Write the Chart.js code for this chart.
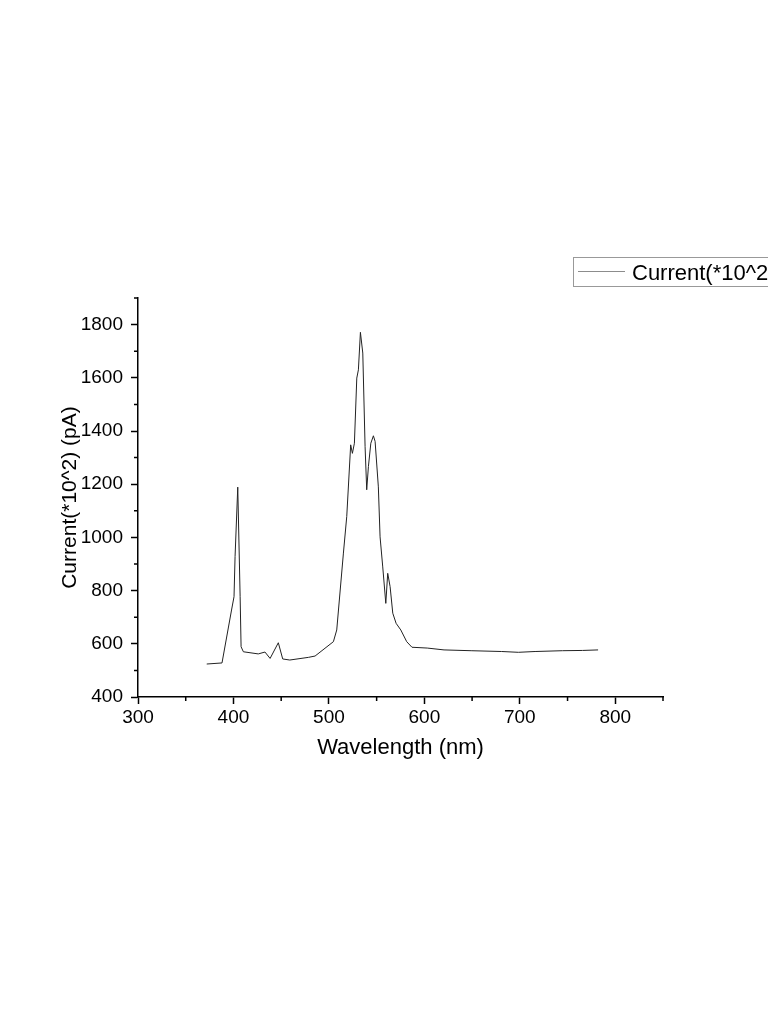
<!DOCTYPE html>
<html lang="en">
<head>
    <meta charset="UTF-8">
    <meta name="viewport" content="width=device-width, initial-scale=1.0">
    <script src="https://cdn.jsdelivr.net/npm/chart.js"></script>
    <title>Current vs Wavelength</title>
    <style>
        html, body { margin: 0; padding: 0; background: #fff; overflow: hidden; }
        #wrap { width: 768px; height: 1024px; position: relative; }
    </style>
</head>
<body>
    <div id="wrap">
        <canvas id="myChart"></canvas>
    </div>
    <script>
        // wavelength (nm) and current (*10^2 pA)
        const wavelength = [372, 388, 398, 400.6, 401.7, 404.5, 407, 408, 410.4, 426, 433, 438.4, 447, 451.6, 459, 478.5,
            485.5, 504.7, 508.2, 515.2, 518.7, 522.8, 524.6, 526.7, 529.2, 530.9, 533, 535.5, 537.9, 539.6, 541.4, 543.9,
            546.6, 548.4, 551.8, 553.6, 556.4, 559.6, 561.6, 564.1, 566.9, 570.4, 575.3, 581.5, 587, 603, 620.6, 649,
            681, 698.5, 716, 744.6, 765.7, 782];
        const current = [524, 528, 727, 777, 928, 1189, 777, 589, 570, 562, 569, 545, 604, 543, 539, 549,
            554, 608, 652, 941, 1079, 1348, 1316, 1354, 1599, 1630, 1771, 1693, 1341, 1179, 1267, 1354,
            1382, 1361, 1190, 1002, 889, 752, 865, 815, 715, 677, 652, 608, 587, 584, 577, 574,
            571, 568, 571, 574, 575, 577];
        const seriesName = 'Current(*10^2) (pA)';
        const xTitle = 'Wavelength (nm)';
        const yTitle = 'Current(*10^2) (pA)';
        const xMinorTicks = [350, 450, 550, 650, 750, 850];
        const yMinorTicks = [500, 700, 900, 1100, 1300, 1500, 1700, 1900];

        const FONT = '"Liberation Sans", Arial, sans-serif';

        // short minor ticks like the original plot
        const minorTicks = {
            id: 'minorTicks',
            afterDraw(chart) {
                const c = chart.ctx;
                const xs = chart.scales.x, ys = chart.scales.y;
                c.save();
                c.strokeStyle = '#000';
                c.lineWidth = 1.5;
                c.beginPath();
                xMinorTicks.forEach(v => {
                    const px = xs.getPixelForValue(v);
                    c.moveTo(px, ys.bottom);
                    c.lineTo(px, ys.bottom + 4);
                });
                yMinorTicks.forEach(v => {
                    const py = ys.getPixelForValue(v);
                    c.moveTo(xs.left, py);
                    c.lineTo(xs.left - 4, py);
                });
                c.stroke();
                c.restore();
            }
        };

        // boxed legend top right, runs off the page edge
        const boxLegend = {
            id: 'boxLegend',
            afterDraw(chart) {
                const c = chart.ctx;
                c.save();
                c.strokeStyle = '#999';
                c.lineWidth = 1;
                c.strokeRect(573.5, 257.5, 240, 29);
                c.strokeStyle = '#8c8c8c';
                c.beginPath();
                c.moveTo(578, 271.5);
                c.lineTo(625, 271.5);
                c.stroke();
                c.fillStyle = '#000';
                c.font = '22px ' + FONT;
                c.textBaseline = 'alphabetic';
                c.fillText(seriesName, 632, 280);
                c.restore();
            }
        };

        const plain = v => String(v);

        const ctx = document.getElementById('myChart');
        const chart = new Chart(ctx, {
            type: 'line',
            data: {
                datasets: [{
                    label: seriesName,
                    data: wavelength.map((w, i) => ({ x: w, y: current[i] })),
                    borderColor: '#222',
                    borderWidth: 1,
                    pointRadius: 0,
                    tension: 0,
                    fill: false
                }]
            },
            options: {
                responsive: true,
                maintainAspectRatio: false,
                animation: false,
                layout: {
                    padding: { top: 298, right: 105, left: 54, bottom: 259 }
                },
                plugins: {
                    legend: { display: false },
                    tooltip: { enabled: false }
                },
                scales: {
                    x: {
                        type: 'linear',
                        min: 300,
                        max: 850,
                        afterFit(scale) { scale.height = 68; },
                        border: { display: true, color: '#000', width: 1.5 },
                        grid: { drawOnChartArea: false, drawTicks: true, tickLength: 7, color: '#000', tickWidth: 1.5 },
                        ticks: {
                            stepSize: 100,
                            includeBounds: false,
                            color: '#000',
                            padding: 2,
                            maxRotation: 0,
                            callback: plain,
                            font: { family: FONT, size: 19 }
                        },
                        title: {
                            display: true,
                            text: xTitle,
                            color: '#000',
                            font: { family: FONT, size: 22 }
                        }
                    },
                    y: {
                        min: 400,
                        max: 1900,
                        afterFit(scale) { scale.width = 84; },
                        border: { display: true, color: '#000', width: 1.5 },
                        grid: { drawOnChartArea: false, drawTicks: true, tickLength: 7, color: '#000', tickWidth: 1.5 },
                        ticks: {
                            stepSize: 200,
                            includeBounds: false,
                            color: '#000',
                            padding: 8,
                            callback: plain,
                            font: { family: FONT, size: 19 }
                        },
                        title: {
                            display: true,
                            text: yTitle,
                            color: '#000',
                            font: { family: FONT, size: 21 }
                        }
                    }
                }
            },
            plugins: [minorTicks, boxLegend]
        });
    </script>
</body>
</html>
